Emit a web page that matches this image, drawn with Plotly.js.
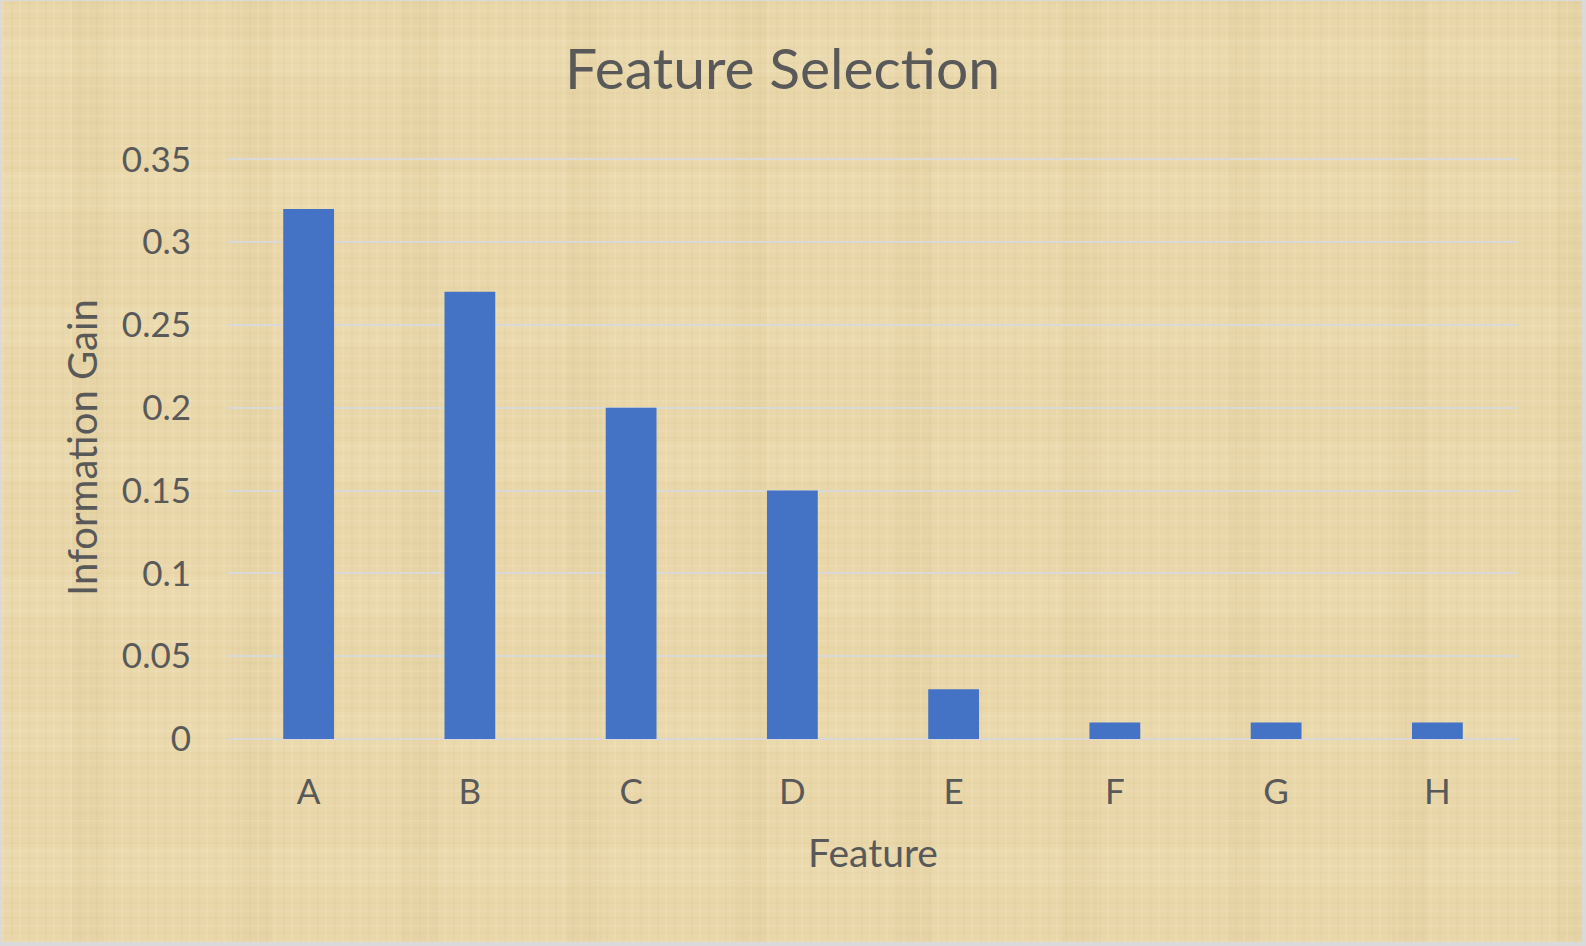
<!DOCTYPE html>
<html>
<head>
<meta charset="utf-8">
<script src="https://cdn.plot.ly/plotly-3.0.1.min.js"></script>
<style>
  html, body { margin: 0; padding: 0; background: #dadada; }
  #frame {
    position: absolute; left: 2px; top: 1px; width: 1580px; height: 941px;
    background-color: #e9d7aa;
    background-image:
      repeating-linear-gradient(90deg, rgba(255,250,230,0.10) 0 2px, rgba(0,0,0,0) 2px 9px, rgba(160,130,70,0.04) 9px 11px, rgba(0,0,0,0) 11px 17px),
      repeating-linear-gradient(0deg, rgba(255,250,230,0.09) 0 2px, rgba(0,0,0,0) 2px 8px, rgba(160,130,70,0.035) 8px 10px, rgba(0,0,0,0) 10px 15px),
      repeating-linear-gradient(90deg, rgba(0,0,0,0) 0 70px, rgba(180,150,80,0.05) 70px 105px, rgba(0,0,0,0) 105px 165px),
      repeating-linear-gradient(0deg, rgba(0,0,0,0) 0 55px, rgba(255,248,220,0.07) 55px 95px, rgba(0,0,0,0) 95px 135px);
  }
  #myDiv { width: 1580px; height: 941px; }
</style>
</head>
<body>
<div id="frame"><div id="myDiv"></div></div>
<script>
var features = ["A", "B", "C", "D", "E", "F", "G", "H"];
var infoGain = [0.32, 0.27, 0.20, 0.15, 0.03, 0.01, 0.01, 0.01];
var yTicks = [0, 0.05, 0.1, 0.15, 0.2, 0.25, 0.3, 0.35];
var yTickText = ["0", "0.05", "0.1", "0.15", "0.2", "0.25", "0.3", "0.35"];

var textColor = "#595959";
var fontName = "Lato, 'Open Sans', sans-serif";

var trace = {
  x: features,
  y: infoGain,
  type: "bar",
  marker: {color: "#4472c4"},
  hoverinfo: "x+y"
};

var layout = {
  width: 1580,
  height: 941,
  paper_bgcolor: "rgba(0,0,0,0)",
  plot_bgcolor: "rgba(0,0,0,0)",
  // top margin a little smaller, range a little taller, so the 0.35 grid line is drawn
  margin: {l: 226, r: 64, t: 155, b: 203},
  bargap: 0.685,
  showlegend: false,
  font: {family: fontName, color: textColor},
  title: {
    text: "Feature Selection",
    font: {family: fontName, size: 57, color: textColor},
    x: 0.494,
    xanchor: "center",
    y: 0.928,
    yanchor: "middle"
  },
  xaxis: {
    type: "category",
    showgrid: false,
    showline: false,
    zeroline: false,
    ticks: "",
    tickfont: {family: fontName, size: 35, color: textColor},
    ticklabelstandoff: 29,
    title: {
      text: "Feature",
      font: {family: fontName, size: 39, color: textColor},
      standoff: 29
    }
  },
  yaxis: {
    range: [0, 0.352],
    tickvals: yTicks,
    ticktext: yTickText,
    showgrid: true,
    gridcolor: "#d9d9d9",
    gridwidth: 2,
    zeroline: true,
    zerolinecolor: "#d9d9d9",
    zerolinewidth: 2,
    showline: false,
    ticks: "",
    tickfont: {family: fontName, size: 35, color: textColor},
    ticklabelstandoff: 36,
    title: {
      text: "Information Gain",
      font: {family: fontName, size: 40, color: textColor},
      standoff: 11
    }
  }
};

Plotly.newPlot("myDiv", [trace], layout, {displayModeBar: false});
</script>
</body>
</html>
